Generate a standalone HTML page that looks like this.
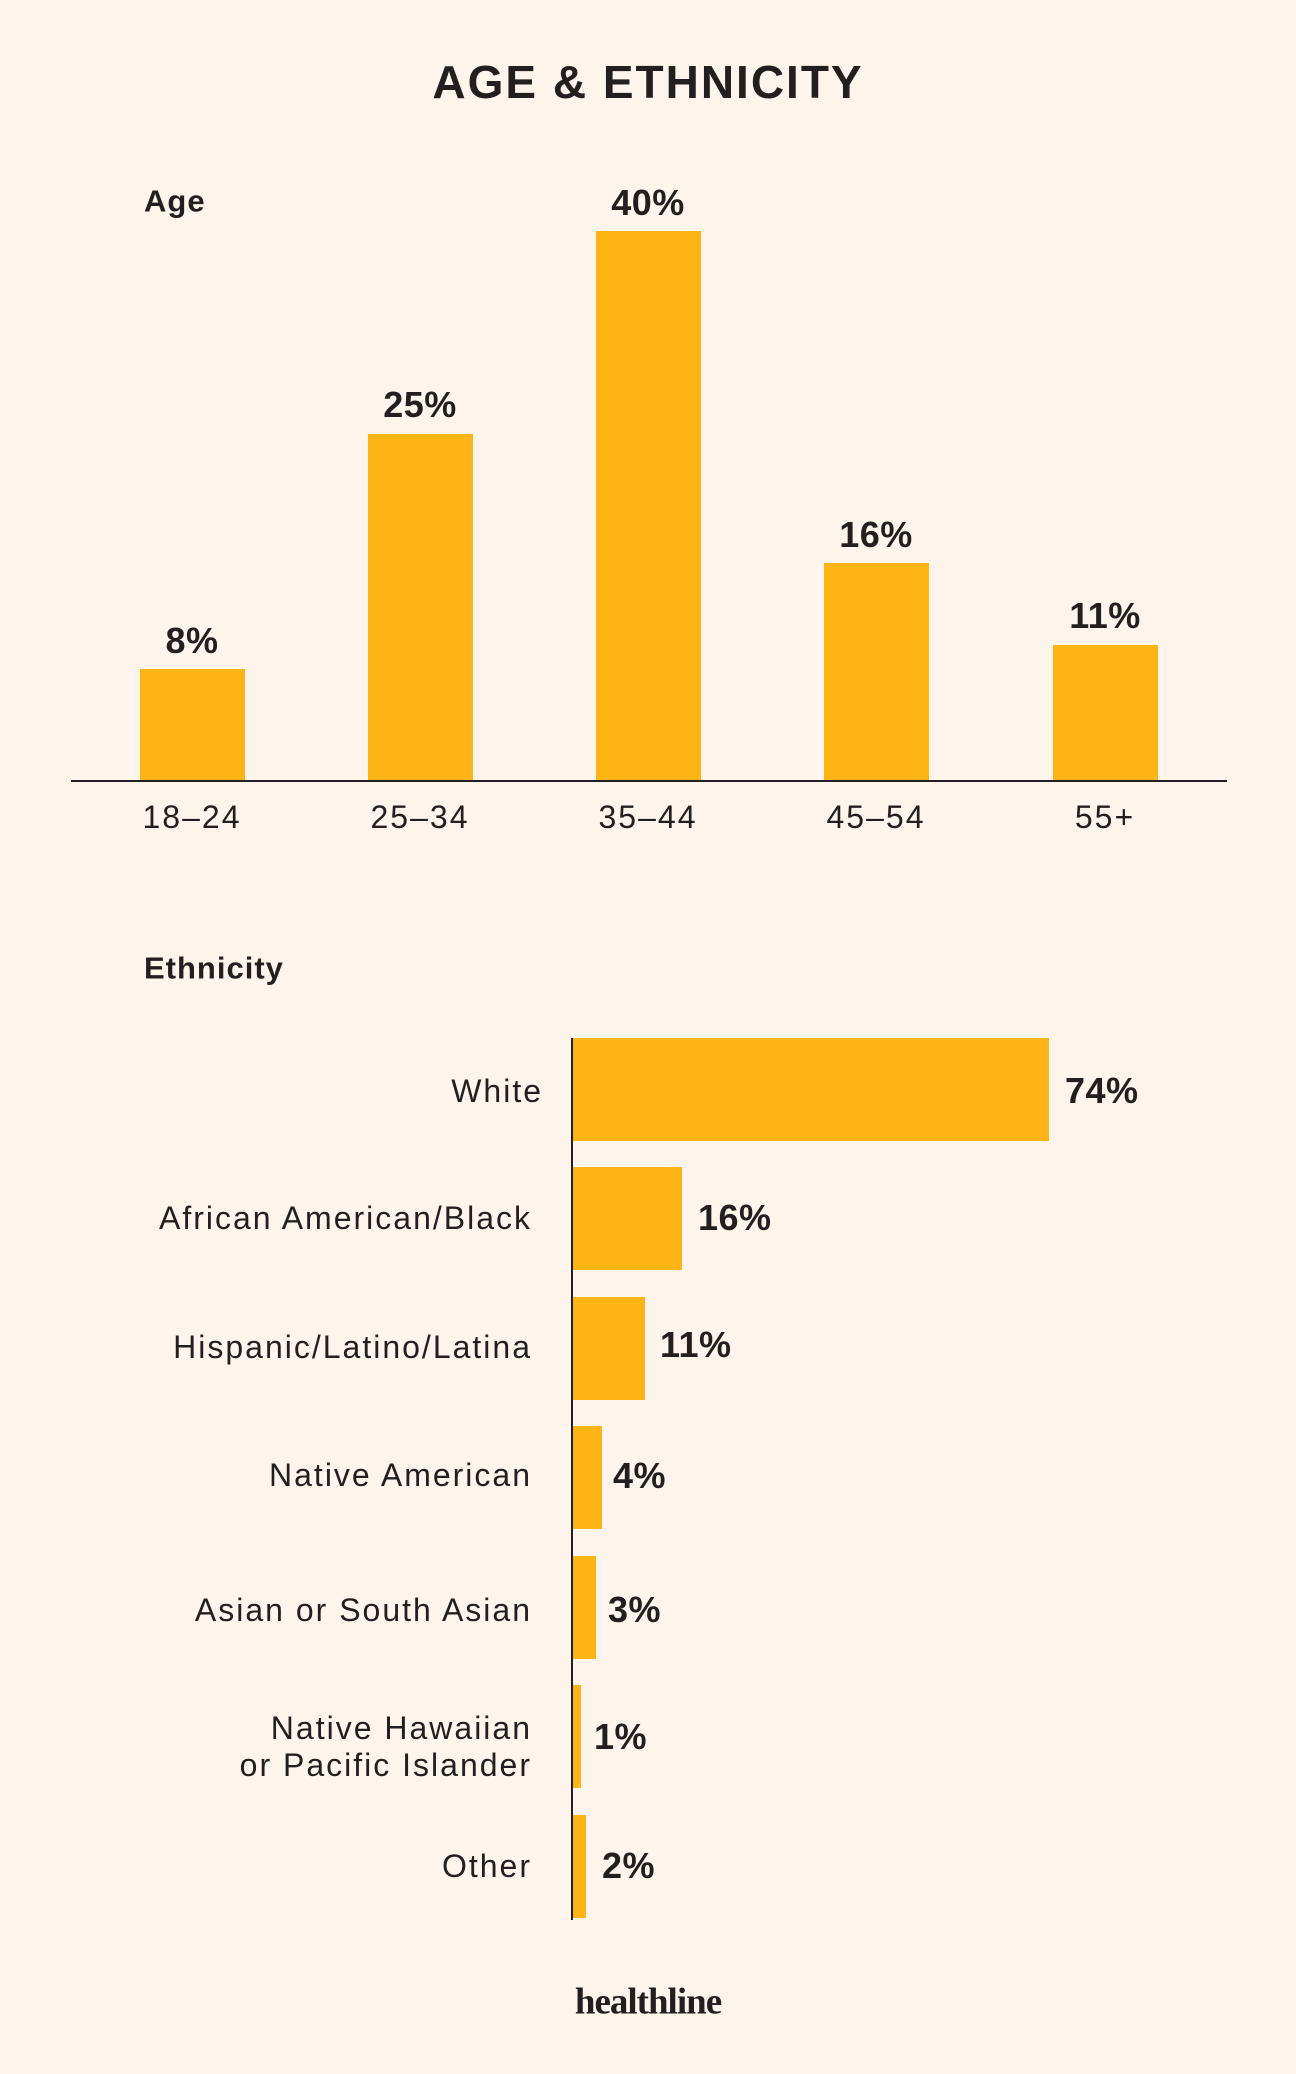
<!DOCTYPE html>
<html><head><meta charset="utf-8"><style>
html,body{margin:0;padding:0;}
body{width:1296px;height:2074px;background:#FDF5EC;position:relative;overflow:hidden;font-family:"Liberation Sans",sans-serif;color:#231F20;}
.a{position:absolute;}
.bar{position:absolute;background:#FDB515;}
.t{position:absolute;white-space:nowrap;line-height:1;}
.v{font-weight:bold;font-size:36px;transform:translate(-50%,-50%);letter-spacing:0.5px;}
.c{font-size:32px;transform:translate(-50%,-50%);letter-spacing:2px;}
.l{font-size:32px;text-align:right;transform:translateY(-50%);right:0;letter-spacing:2px;}
.r{font-weight:bold;font-size:36px;transform:translateY(-50%);letter-spacing:0.5px;}
</style></head><body>
<div class="t" style="left:648px;top:82px;transform:translate(-50%,-50%);font-weight:bold;font-size:46px;letter-spacing:2px;">AGE &amp; ETHNICITY</div>
<div class="t" style="left:144px;top:201px;transform:translateY(-50%);font-weight:bold;font-size:31px;letter-spacing:1px;">Age</div>

<div class="bar" style="left:140px;top:669px;width:105px;height:111px"></div>
<div class="bar" style="left:368px;top:434px;width:105px;height:346px"></div>
<div class="bar" style="left:596px;top:231px;width:105px;height:549px"></div>
<div class="bar" style="left:824px;top:563px;width:105px;height:217px"></div>
<div class="bar" style="left:1053px;top:645px;width:105px;height:135px"></div>
<div class="a" style="left:71px;top:780px;width:1156px;height:2px;background:#231F20"></div>

<div class="t v" style="left:192px;top:641px">8%</div>
<div class="t v" style="left:420px;top:405px">25%</div>
<div class="t v" style="left:648px;top:203px">40%</div>
<div class="t v" style="left:876px;top:535px">16%</div>
<div class="t v" style="left:1105px;top:616px">11%</div>

<div class="t c" style="left:192px;top:817px">18–24</div>
<div class="t c" style="left:420px;top:817px">25–34</div>
<div class="t c" style="left:648px;top:817px">35–44</div>
<div class="t c" style="left:876px;top:817px">45–54</div>
<div class="t c" style="left:1105px;top:817px">55+</div>

<div class="t" style="left:144px;top:968px;transform:translateY(-50%);font-weight:bold;font-size:31px;letter-spacing:1px;">Ethnicity</div>

<div class="bar" style="left:571px;top:1038px;width:478px;height:103px"></div>
<div class="bar" style="left:571px;top:1167px;width:111px;height:103px"></div>
<div class="bar" style="left:571px;top:1297px;width:74px;height:103px"></div>
<div class="bar" style="left:571px;top:1426px;width:31px;height:103px"></div>
<div class="bar" style="left:571px;top:1556px;width:25px;height:103px"></div>
<div class="bar" style="left:571px;top:1685px;width:10px;height:103px"></div>
<div class="bar" style="left:571px;top:1815px;width:15px;height:103px"></div>
<div class="a" style="left:571px;top:1038px;width:2px;height:882px;background:#231F20"></div>

<div class="a" style="left:0;top:0;width:543px;height:2074px">
<div class="t l" style="top:1091px">White</div>
</div>
<div class="a" style="left:0;top:0;width:532px;height:2074px">
<div class="t l" style="top:1218px">African American/Black</div>
<div class="t l" style="top:1347px">Hispanic/Latino/Latina</div>
<div class="t l" style="top:1475px">Native American</div>
<div class="t l" style="top:1610px">Asian or South Asian</div>
<div class="t l" style="top:1747px;line-height:1.15">Native Hawaiian<br>or Pacific Islander</div>
<div class="t l" style="top:1866px">Other</div>
</div>

<div class="t r" style="left:1065px;top:1091px">74%</div>
<div class="t r" style="left:698px;top:1218px">16%</div>
<div class="t r" style="left:660px;top:1345px">11%</div>
<div class="t r" style="left:613px;top:1476px">4%</div>
<div class="t r" style="left:608px;top:1610px">3%</div>
<div class="t r" style="left:594px;top:1737px">1%</div>
<div class="t r" style="left:602px;top:1866px">2%</div>

<div class="t" style="left:648px;top:2002px;transform:translate(-50%,-50%);font-family:'Liberation Serif',serif;font-weight:bold;font-size:37px;letter-spacing:-1px;">healthline</div>
</body></html>
